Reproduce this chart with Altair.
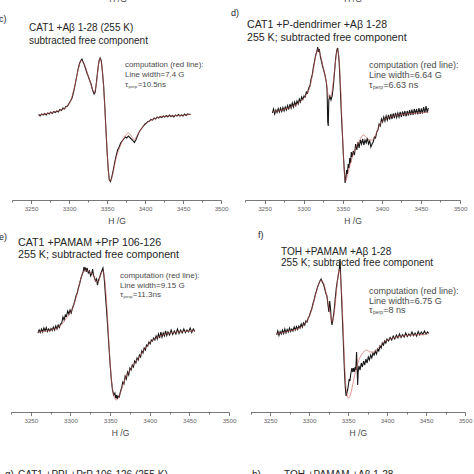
import altair as alt
import pandas as pd

FONT = "Liberation Sans"

# ---------------- texts ----------------
panel_tags = ["c)", "d)", "e)", "f)"]
title_line1 = ["CAT1 +A\u03b2 1-28 (255 K)", "CAT1 +P-dendrimer +A\u03b2 1-28",
               "CAT1 +PAMAM +PrP 106-126", "TOH +PAMAM +A\u03b2 1-28"]
title_line2 = ["subtracted free component", "255 K; subtracted free component",
               "255 K; subtracted free component", "255 K; subtracted free component"]
line_widths = ["7.4 G", "6.64 G", "9.15 G", "6.75 G"]
tau_perp = ["10.5ns", "6.63 ns", "11.3ns", "8 ns"]
axis_title = "H /G"
x_domain = [3225, 3500]
tick_values = [3225, 3250, 3275, 3300, 3325, 3350, 3375, 3400, 3425, 3450, 3475, 3500]
cut_bottom_tags = ["g)", "h)"]
cut_bottom_titles = ["CAT1 +PPI +PrP 106-126 (255 K)", "TOH +PAMAM +A\u03b2 1-28"]

# ---------------- spectra (field H in G, intensity in arb. units) ----------------
c_exp = [(3260, 85.5), (3262, 84), (3264, 86), (3266, 85), (3268, 86.5), (3270, 85), (3272, 87),
         (3274, 86), (3276, 88), (3278, 86.5), (3280, 88.5), (3282, 87.5), (3284, 89), (3286, 88),
         (3288, 90.5), (3290, 89.5), (3292, 92), (3294, 91), (3296, 93.5), (3298, 94), (3300, 96.5),
         (3302, 99), (3304, 102), (3306, 108), (3308, 115), (3310, 123), (3312, 131), (3314, 137),
         (3316, 140), (3317, 141), (3318, 139), (3320, 135.5), (3322, 131), (3324, 126), (3325, 124.5),
         (3327, 120), (3329, 116), (3331, 110), (3333, 106), (3334.5, 108), (3336, 117), (3338, 131),
         (3339.5, 139), (3341, 142), (3342.5, 139), (3344, 128), (3345.5, 115), (3347, 95), (3348.5, 72),
         (3350, 50), (3351.5, 32), (3353, 20), (3354.5, 18.5), (3356, 22), (3358, 29), (3360, 37),
         (3362, 44), (3364, 50), (3366, 53), (3368, 57), (3370, 59), (3372, 61), (3374, 63), (3376, 62),
         (3378, 64), (3380, 62.5), (3382, 61), (3384, 59.5), (3386, 57.5), (3388, 60), (3390, 64),
         (3392, 67.5), (3394, 70), (3396, 72), (3398, 74), (3400, 76), (3402, 77), (3404, 78.5),
         (3406, 79), (3408, 80.5), (3410, 80), (3412, 82), (3414, 81), (3416, 83), (3418, 82),
         (3420, 83.5), (3422, 82.5), (3424, 84), (3426, 83), (3428, 84.5), (3430, 83), (3432, 85),
         (3434, 83.5), (3436, 84.5), (3438, 83), (3440, 85), (3442, 84), (3444, 85.5), (3446, 84),
         (3448, 85), (3450, 84), (3452, 86), (3454, 84.5), (3456, 86), (3458, 85.5), (3460, 86)]
c_fit = [(3260, 85), (3280, 88), (3295, 92), (3302, 99), (3307, 112), (3312, 130), (3316, 139.5),
         (3320, 136), (3325, 125), (3330, 113), (3333, 107.5), (3336, 116), (3339, 136), (3341, 142),
         (3343, 136), (3346, 108), (3349, 65), (3352, 27), (3354, 19), (3357, 24), (3362, 42),
         (3368, 55), (3374, 64), (3378, 67), (3382, 64), (3386, 60), (3390, 65), (3396, 72),
         (3404, 78), (3415, 82), (3430, 84), (3445, 84.5), (3460, 85.5)]

d_exp = [(3260, 87), (3261.5, 91), (3263, 86), (3264.5, 90), (3266, 87.5), (3267.5, 91.5), (3269, 88),
         (3270.5, 92), (3272, 88.5), (3273.5, 92.5), (3275, 89), (3276.5, 93), (3278, 90), (3279.5, 94.5),
         (3281, 90.5), (3282.5, 96), (3284, 92), (3285.5, 97), (3287, 93), (3288.5, 98), (3290, 94.5),
         (3291.5, 99), (3293, 96), (3294.5, 101), (3296, 98), (3297.5, 103), (3299, 100.5), (3300.5, 104),
         (3302, 103), (3303.5, 108), (3305, 107), (3306.5, 112), (3308, 114), (3309.5, 121), (3311, 125),
         (3312.5, 133), (3314, 139), (3315.5, 145), (3317, 149), (3318, 153), (3319, 148), (3320, 151),
         (3321.5, 143), (3323, 138), (3324.5, 133), (3326, 129), (3327.5, 124), (3329, 118), (3330, 110),
         (3330.8, 78), (3331.5, 74), (3332.2, 100), (3333.5, 104), (3335, 100), (3336.5, 104), (3338, 114),
         (3339.5, 128), (3341, 142), (3342.5, 150), (3343.5, 152), (3344.5, 146), (3345.5, 137),
         (3346.5, 120), (3347.5, 100), (3348.5, 82), (3349.5, 67), (3350.5, 50), (3351.5, 36),
         (3352.5, 24), (3353, 17), (3354, 22), (3355, 30), (3356, 26), (3357, 36), (3358, 32), (3359, 42),
         (3360, 37), (3361, 48), (3362, 43), (3363.5, 49), (3365, 45), (3366.5, 56), (3368, 50),
         (3369.5, 58), (3371, 52), (3372.5, 60), (3374, 56), (3375.5, 61), (3377, 55), (3378.5, 60),
         (3380, 57), (3381.5, 62), (3383, 56), (3384.5, 59), (3386, 53), (3387.5, 56), (3389, 58),
         (3390.5, 63), (3392, 62), (3393.5, 68), (3395, 70), (3396.5, 76), (3398, 74), (3399.5, 81),
         (3401, 78), (3402.5, 83), (3404, 79), (3405.5, 84), (3407, 80), (3408.5, 85), (3410, 80.5),
         (3411.5, 86), (3413, 81), (3414.5, 86.5), (3416, 82), (3417.5, 87), (3419, 82.5), (3420.5, 87),
         (3422, 83), (3423.5, 88), (3425, 83), (3426.5, 88.5), (3428, 84), (3429.5, 89), (3431, 83.5),
         (3432.5, 89), (3434, 84.5), (3435.5, 90), (3437, 85), (3438.5, 90.5), (3440, 85), (3441.5, 91),
         (3443, 86), (3444.5, 91), (3446, 85.5), (3447.5, 92), (3449, 86), (3450.5, 91.5), (3452, 86.5),
         (3453.5, 93), (3455, 87), (3456.5, 94), (3458, 87.5), (3459.5, 92)]
d_fit = [(3260, 88), (3280, 92), (3295, 98), (3303, 105), (3308, 113), (3312, 128), (3316, 146),
         (3318.5, 151), (3321, 146), (3325, 133), (3329, 118), (3332, 103), (3335, 104), (3338, 119),
         (3341, 140), (3343, 151), (3345, 144), (3347.5, 110), (3350, 60), (3352.5, 24), (3354, 19),
         (3357, 28), (3362, 42), (3367, 53), (3372, 60), (3376, 65), (3380, 63), (3384, 60), (3388, 60),
         (3393, 67), (3398, 76), (3404, 81), (3415, 84), (3430, 86), (3445, 87), (3460, 88)]

e_exp = [(3259, 79), (3260.5, 82), (3262, 79.5), (3263.5, 83), (3265, 80), (3266.5, 84), (3268, 81),
         (3269.5, 84.5), (3271, 80.5), (3272.5, 83), (3274, 81), (3275.5, 83.5), (3277, 81.5),
         (3278.5, 85), (3280, 82), (3281.5, 86), (3283, 83), (3284.5, 87), (3286, 84.5), (3287.5, 88),
         (3289, 89), (3290.5, 95), (3292, 92), (3293.5, 97), (3295, 96), (3296.5, 101), (3298, 98),
         (3299.5, 102), (3301, 99), (3302.5, 104), (3304, 107), (3305.5, 111), (3307, 116),
         (3308.5, 119), (3310, 124), (3311.5, 128), (3313, 133), (3314.5, 137), (3316, 140),
         (3317, 145), (3318, 142), (3319, 144.5), (3320, 140), (3321, 144), (3322.5, 139), (3324, 141),
         (3325.5, 136), (3327, 139), (3328, 143), (3329, 137), (3330, 135), (3331.5, 131), (3333, 133),
         (3334, 127), (3335.5, 132), (3337, 135), (3338.5, 139), (3340, 142), (3341, 144), (3342, 138),
         (3343, 130), (3344, 118), (3345.5, 102), (3347, 85), (3348.5, 66), (3350, 48), (3351.5, 33),
         (3353, 22), (3354.5, 17), (3356, 19), (3357, 14), (3358, 17), (3359, 13), (3360, 16),
         (3361.5, 15), (3363, 20), (3364.5, 24), (3366, 30), (3367.5, 28), (3369, 36), (3370.5, 33),
         (3372, 40), (3373.5, 37), (3375, 44), (3376.5, 42), (3378, 47), (3379.5, 45), (3381, 51),
         (3382.5, 49), (3384, 54), (3385.5, 52), (3387, 57), (3388.5, 55), (3390, 61), (3391.5, 59),
         (3393, 64), (3394.5, 62), (3396, 67), (3397.5, 66), (3399, 70), (3400.5, 68), (3402, 72),
         (3403.5, 71), (3405, 74), (3406.5, 72), (3408, 76), (3409.5, 73), (3411, 78), (3412.5, 74),
         (3414, 80), (3415.5, 75), (3417, 79), (3418.5, 76), (3420, 81), (3421.5, 76.5), (3423, 80),
         (3425, 77), (3427, 82), (3429, 77.5), (3431, 81), (3433, 78), (3435, 83), (3437, 78.5),
         (3439, 82), (3441, 79), (3443, 83), (3445, 79.5), (3447, 82), (3449, 80), (3451, 84),
         (3453, 79.5), (3455, 83), (3457, 80.5)]
e_fit = [(3259, 80), (3275, 82), (3287, 86), (3295, 94), (3302, 102), (3308, 117), (3314, 136),
         (3318, 142), (3322, 141), (3326, 139), (3329, 137), (3332, 131), (3335, 130), (3338, 137),
         (3341, 141), (3343, 134), (3346, 105), (3349, 62), (3352, 30), (3355, 16), (3358, 12),
         (3361, 15), (3365, 24), (3370, 35), (3376, 43), (3384, 52), (3392, 61), (3400, 69),
         (3410, 75), (3420, 78), (3435, 80), (3457, 81)]

f_exp = [(3258.6, 77), (3260, 81), (3261.5, 76.5), (3263, 80.5), (3264.5, 78), (3266, 82),
         (3267.5, 78.5), (3269, 83), (3270.5, 79), (3272, 82.5), (3273.5, 80), (3275, 84), (3276.5, 80.5),
         (3278, 83), (3279.5, 81), (3281, 85), (3282.5, 82), (3284, 85.5), (3285.5, 82.5), (3287, 86),
         (3288.5, 84), (3290, 88), (3291.5, 85), (3293, 89), (3294.5, 87), (3296, 91), (3297.5, 90),
         (3299, 94), (3300.5, 96), (3302, 100), (3303.5, 103), (3305, 108), (3306.5, 112), (3308, 117),
         (3309.5, 121), (3311, 125), (3312.5, 128), (3314, 131), (3315.5, 133), (3317, 130),
         (3318.5, 128), (3320, 124), (3321.5, 119), (3323, 116), (3324.5, 106), (3325.5, 100),
         (3326.5, 111), (3327.5, 104), (3328.5, 92), (3329.5, 87), (3330.5, 92), (3332, 100),
         (3333.5, 112), (3335, 124), (3336.5, 132), (3338, 139), (3339, 144), (3339.8, 153),
         (3340.5, 138), (3341.5, 120), (3342.5, 100), (3343.5, 80), (3344.5, 60), (3345.5, 40),
         (3346.5, 25), (3347.5, 16), (3348.5, 19), (3349.5, 22), (3350.5, 27), (3351.5, 33),
         (3352.5, 31), (3353.5, 38), (3355, 44), (3356, 40), (3357, 44), (3358, 40), (3359, 45),
         (3360, 42), (3361, 60), (3361.7, 44), (3362.4, 27), (3363, 40), (3364, 46), (3365.5, 42),
         (3367, 49), (3368.5, 45), (3370, 51), (3371.5, 47), (3373, 53), (3374.5, 49), (3376, 55),
         (3377.5, 52), (3379, 57), (3380.5, 54), (3382, 59), (3383.5, 57), (3385, 61), (3386.5, 58),
         (3388, 63), (3389.5, 61), (3391, 66), (3392.5, 64), (3394, 69), (3395.5, 67), (3397, 71),
         (3398.5, 69), (3400, 73), (3402, 71), (3404, 74.5), (3406, 72), (3408, 76), (3410, 73),
         (3412, 77), (3414, 74), (3416, 78), (3418, 74.5), (3420, 77.5), (3422, 75), (3424, 79),
         (3426, 75.5), (3428, 78), (3430, 76), (3432, 80), (3434, 76.5), (3436, 79), (3438, 76),
         (3440, 80.5), (3442, 77), (3444, 80), (3446, 77.5), (3448, 81), (3450, 78), (3452, 80),
         (3453.5, 78.5)]
f_fit = [(3258.6, 78), (3275, 81), (3290, 85), (3298, 92), (3303, 101), (3308, 116), (3312, 127),
         (3316, 132), (3319, 128), (3323, 115), (3327, 99), (3330, 90), (3333, 103), (3336, 127),
         (3339, 143), (3341, 130), (3343.5, 90), (3346, 42), (3348.5, 18), (3351, 14), (3354, 20),
         (3358, 35), (3363, 50), (3368, 58), (3374, 62), (3378, 60), (3383, 60), (3390, 65),
         (3398, 71), (3408, 74), (3420, 76), (3435, 77), (3453, 78)]

spectra = [(c_exp, c_fit), (d_exp, d_fit), (e_exp, e_fit), (f_exp, f_fit)]

# ---------------- layout (pixels in the 474x474 figure) ----------------
W = H = 474
panels_layout = [
    dict(xr=[12, 221], yr=[200, 10], axis_y=200, tag=(-1, 19, 9), t=(29, 28, 41, 10),
         ann=(125, 65, 10, 7.9)),
    dict(xr=[245, 460], yr=[200, 10], axis_y=200, tag=(231, 13, 9), t=(247, 25, 38, 10.6),
         ann=(369, 65, 10, 9.0)),
    dict(xr=[11, 229], yr=[412, 222], axis_y=412, tag=(-1, 237, 9), t=(18, 243, 255, 10.7),
         ann=(120, 276, 9.5, 8.0)),
    dict(xr=[250.5, 465], yr=[412, 222], axis_y=412, tag=(258, 235, 9), t=(281, 252, 263, 10.1),
         ann=(369, 291, 9.7, 9.0)),
]

TITLE_COLOR = "#262626"
ANN_COLOR = "#4a4a4a"


def txt(s, x, y, size, color, align="left", baseline="middle"):
    return alt.Chart(alt.Data(values=[{}])).mark_text(
        text=s, font=FONT, fontSize=size, color=color, align=align, baseline=baseline
    ).encode(x=alt.value(x), y=alt.value(y))


layers = []
for i, ((exp, fit), lay) in enumerate(zip(spectra, panels_layout)):
    xs = alt.Scale(domain=x_domain, range=lay["xr"], nice=False, zero=False)
    ys = alt.Scale(domain=[0, 190], range=lay["yr"], nice=False, zero=False)
    ax = alt.Axis(
        orient="bottom", offset=lay["axis_y"] - H, values=tick_values, format="d",
        labelExpr="datum.value % 50 === 0 ? datum.label : ''",
        tickSize={"condition": {"test": "datum.value % 50 === 0", "value": 3.5}, "value": 2},
        title=axis_title, grid=False, labelFont=FONT, labelFontSize=6.2, labelColor="#666666",
        labelPadding=1.5, labelOverlap=False, labelFlush=False,
        domainColor="#555555", domainWidth=0.8, tickColor="#555555", tickWidth=0.8,
        titleFont=FONT, titleFontSize=8.5, titleFontWeight="normal", titleColor="#444444",
        titlePadding=5,
    )
    dexp = pd.DataFrame(exp, columns=["H", "I"])
    dfit = pd.DataFrame(fit, columns=["H", "I"])
    black = alt.Chart(dexp).mark_line(color="#161616", strokeWidth=1.1, interpolate="linear").encode(
        x=alt.X("H:Q", scale=xs, axis=ax), y=alt.Y("I:Q", scale=ys, axis=None), order="H:Q")
    red = alt.Chart(dfit).mark_line(color="#cc5a5a", strokeWidth=0.7, opacity=0.9,
                                    interpolate="monotone").encode(
        x=alt.X("H:Q", scale=xs, axis=ax), y=alt.Y("I:Q", scale=ys, axis=None), order="H:Q")
    layers.append(alt.layer(black, red))

texts = []
for i, lay in enumerate(panels_layout):
    tx, ty, ts = lay["tag"]
    texts.append(txt(panel_tags[i], tx, ty, ts, TITLE_COLOR))
    x1, y1, y2, fs = lay["t"]
    texts.append(txt(title_line1[i], x1, y1, fs, TITLE_COLOR))
    texts.append(txt(title_line2[i], x1, y2, fs, TITLE_COLOR))
    ax0, ay0, dy, afs = lay["ann"]
    texts.append(txt("computation (red line):", ax0, ay0, afs, ANN_COLOR))
    texts.append(txt("Line width=" + line_widths[i], ax0, ay0 + dy, afs, ANN_COLOR))
    texts.append(txt("\u03c4", ax0, ay0 + 2 * dy, afs, ANN_COLOR))
    texts.append(txt("perp", ax0 + 0.45 * afs, ay0 + 2 * dy + 0.3 * afs, 0.55 * afs, ANN_COLOR))
    texts.append(txt("=" + tau_perp[i], ax0 + 0.45 * afs + 1.1 * afs + 0.4, ay0 + 2 * dy, afs, ANN_COLOR))

# neighbouring panels' text, cut at the figure edges as in the reference
texts.append(txt(axis_title, 118, 3.5, 8.5, "#444444", align="center", baseline="bottom"))
texts.append(txt(axis_title, 353, 3.5, 8.5, "#444444", align="center", baseline="bottom"))
texts.append(txt(cut_bottom_tags[0], 5, 470, 10, TITLE_COLOR, baseline="top"))
texts.append(txt(cut_bottom_titles[0], 18, 470, 10, TITLE_COLOR, baseline="top"))
texts.append(txt(cut_bottom_tags[1], 252, 470, 10, TITLE_COLOR, baseline="top"))
texts.append(txt(cut_bottom_titles[1], 284, 470, 10, TITLE_COLOR, baseline="top"))

chart = alt.layer(*layers, *texts).resolve_scale(
    x="independent", y="independent"
).resolve_axis(
    x="independent", y="independent"
).properties(
    width=W, height=H, padding=0, autosize=alt.AutoSizeParams(type="none"),
    background="white",
).configure_view(stroke=None)

chart.save("out.html", embed_options={"renderer": "svg", "actions": False})
